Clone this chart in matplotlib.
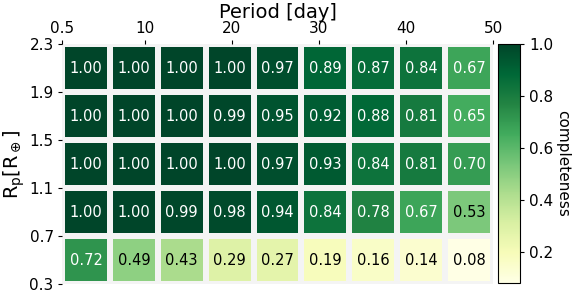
import numpy as np
import matplotlib
matplotlib.use("Agg")
import matplotlib.pyplot as plt

# bin edges
period_edges = [0.5, 6, 11.5, 17, 22.5, 28, 33.5, 39, 44.5, 50]
radius_edges = [0.3, 0.7, 1.1, 1.5, 1.9, 2.3]

# completeness, rows from bottom (0.3-0.7) to top (1.9-2.3)
row_03_07 = [0.72, 0.49, 0.43, 0.29, 0.27, 0.19, 0.16, 0.14, 0.08]
row_07_11 = [1.00, 1.00, 0.99, 0.98, 0.94, 0.84, 0.78, 0.67, 0.53]
row_11_15 = [1.00, 1.00, 1.00, 1.00, 0.97, 0.93, 0.84, 0.81, 0.70]
row_15_19 = [1.00, 1.00, 1.00, 0.99, 0.95, 0.92, 0.88, 0.81, 0.65]
row_19_23 = [1.00, 1.00, 1.00, 1.00, 0.97, 0.89, 0.87, 0.84, 0.67]

xticks = [0.5, 10, 20, 30, 40, 50]
yticks = [0.3, 0.7, 1.1, 1.5, 1.9, 2.3]

comp = np.array([row_03_07, row_07_11, row_11_15, row_15_19, row_19_23])

fig = plt.figure(figsize=(5.72, 2.90), dpi=100)
ax = fig.add_axes([0.1084, 0.0207, 0.7536, 0.8273])
cax = fig.add_axes([0.8706, 0.0241, 0.0385, 0.8239])

mesh = ax.pcolormesh(period_edges, radius_edges, comp, cmap="YlGn",
                     vmin=comp.min(), vmax=1.0,
                     edgecolor="#f4f4f4", linewidth=3)

# annotate each cell
for i in range(len(radius_edges) - 1):
    for j in range(len(period_edges) - 1):
        v = comp[i, j]
        xc = (period_edges[j] + period_edges[j + 1]) / 2
        yc = (radius_edges[i] + radius_edges[i + 1]) / 2
        ax.text(xc, yc, f"{v:.2f}", ha="center", va="center", fontsize=10.5,
                color="white" if v > 0.6 else "black")

ax.set_xlim(period_edges[0], period_edges[-1])
ax.set_ylim(radius_edges[0], radius_edges[-1])
ax.xaxis.tick_top()
ax.xaxis.set_label_position("top")
ax.set_xticks(xticks)
ax.set_xticklabels(["0.5", "10", "20", "30", "40", "50"])
ax.set_yticks(yticks)
ax.set_yticklabels([str(t) for t in yticks])
ax.tick_params(labelsize=11, length=3, pad=3)
for s in ax.spines.values():
    s.set_visible(False)
ax.set_xlabel("Period [day]", fontsize=14, labelpad=2)
ax.set_ylabel(r"$\mathrm{R_p[R_\oplus]}$", fontsize=14, labelpad=2)

cb = fig.colorbar(mesh, cax=cax)
cb.set_ticks([0.2, 0.4, 0.6, 0.8, 1.0])
cb.ax.tick_params(labelsize=11, length=3)
cb.set_label("completeness", rotation=270, labelpad=12, fontsize=11)

fig.savefig("out.png", dpi=100)
